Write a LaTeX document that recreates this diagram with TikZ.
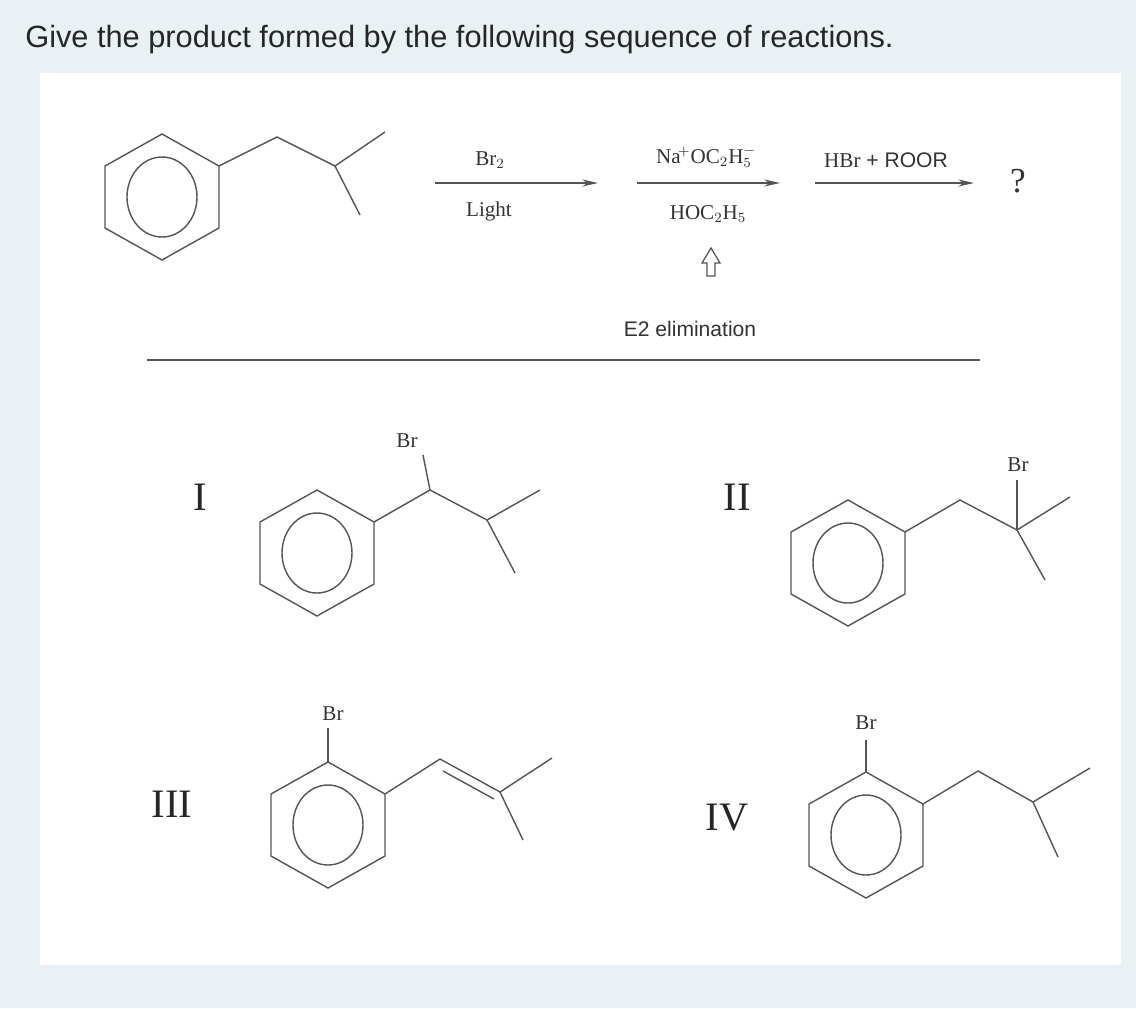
\documentclass[tikz,border=0pt]{standalone}
\usepackage{fontspec}
\setmainfont{Liberation Serif}
\setsansfont{Liberation Sans}
\usetikzlibrary{arrows.meta}
\definecolor{bgc}{HTML}{E9F1F5}
\definecolor{ink}{HTML}{555555}
\tikzset{bond/.style={draw=ink,line width=0.8pt},
 rxn/.style={draw=ink,line width=0.9pt,-{Stealth[length=9pt,width=4pt]}},
 lab/.style={font=\fontsize{12}{14}\selectfont,text=black!80,inner sep=0pt},
 num/.style={font=\fontsize{23}{26}\selectfont,text=black!85,inner sep=0pt}}
\newcommand{\benz}[2]{%
 \draw[bond] (#1,#2-63) -- (#1+57,#2-31) -- (#1+57,#2+31) -- (#1,#2+63) -- (#1-57,#2+31) -- (#1-57,#2-31) -- cycle;
 \draw[bond] (#1,#2) ellipse [x radius=35, y radius=40];}
\begin{document}
\begin{tikzpicture}[x=0.02cm,y=-0.02cm]
\useasboundingbox (0,0) rectangle (1136,1008);
\fill[bgc] (0,0) rectangle (1136,1008);
\fill[white] (40,73) rectangle (1121,965);
\node[anchor=west,inner sep=0pt,font=\sffamily\fontsize{17.5}{20}\selectfont,text=black!85] (title) at (25,40) {Give the product formed by the following sequence of reactions.};
% top molecule
\benz{162}{197}
\draw[bond] (219,166) -- (277,137) -- (335,166) -- (385,132);
\draw[bond] (335,166) -- (360,215);
% arrows
\coordinate (a1s) at (435,183); \coordinate (a1e) at (598,183);
\coordinate (a2s) at (637,183); \coordinate (a2e) at (780,183);
\coordinate (a3s) at (815,183); \coordinate (a3e) at (974,183);
\draw[rxn] (a1s) -- (a1e);
\draw[rxn] (a2s) -- (a2e);
\draw[rxn] (a3s) -- (a3e);
\node[lab] (br2) at (490,160) {Br$_2$};
\node[lab] (light) at (489,211) {Light};
\node[lab] (naoet) at (706,157) {Na$^{\!+}$OC$_2$H$_5^{-}$};
\node[lab] (hoet) at (708,214) {HOC$_2$H$_5$};
\node[lab,font=\sffamily\fontsize{12}{14}\selectfont] (hbr) at (886,160) {\rmfamily HBr\sffamily{} + ROOR};
\node[lab,font=\fontsize{20}{22}\selectfont] (q) at (1018,181) {?};
\draw[ink,line width=0.7pt] (707,276) -- (707,263) -- (702,263) -- (711,248) -- (720,263) -- (715,263) -- (715,276) -- cycle;
\node[lab,font=\sffamily\fontsize{12}{14}\selectfont] (e2) at (690,329) {E2 elimination};
\draw[ink,line width=0.9pt] (147,360) -- (980,360);
% labels
\node[num] (n1) at (200,497) {I};
\node[num] (n2) at (737,497) {II};
\node[num] (n3) at (172,804) {III};
\node[num] (n4) at (727,818) {IV};
% I
\benz{317}{553}
\draw[bond] (374,522) -- (430,490) -- (487,520) -- (540,490);
\draw[bond] (487,520) -- (515,573);
\draw[bond] (430,490) -- (423,455);
\node[lab] (bri) at (407,441) {Br};
% II
\benz{848}{563}
\draw[bond] (905,532) -- (960,500) -- (1017,530) -- (1070,497);
\draw[bond] (1017,530) -- (1045,580);
\draw[bond] (1017,530) -- (1017,480);
\node[lab] (brii) at (1018,465) {Br};
% III
\benz{328}{825}
\draw[bond] (328,762) -- (328,728);
\node[lab] (briii) at (333,714) {Br};
\draw[bond] (385,794) -- (440,759) -- (500,792) -- (552,758);
\draw[bond] (443,771) -- (494,799);
\draw[bond] (500,792) -- (523,840);
% IV
\benz{866}{835}
\draw[bond] (866,772) -- (866,740);
\node[lab] (briv) at (866,723) {Br};
\draw[bond] (923,804) -- (978,771) -- (1033,802) -- (1090,768);
\draw[bond] (1033,802) -- (1058,857);
\end{tikzpicture}
\end{document}
